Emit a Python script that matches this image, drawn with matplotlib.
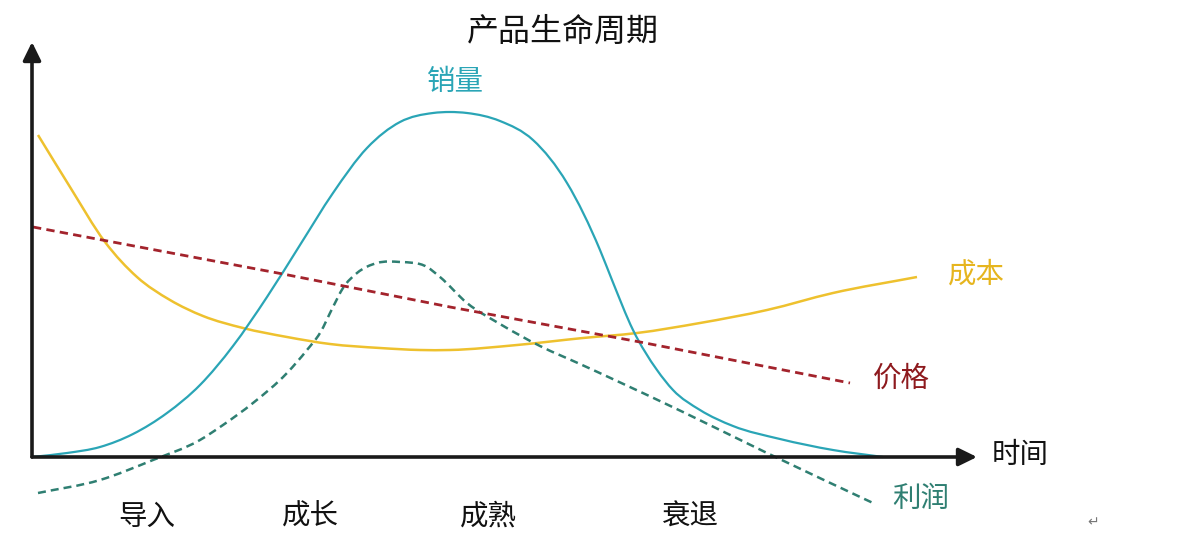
import matplotlib
matplotlib.use("Agg")
import matplotlib.pyplot as plt
from matplotlib.path import Path
from matplotlib.patches import PathPatch
import numpy as np

plt.rcParams['font.family'] = ['Noto Sans CJK SC', 'DejaVu Sans']

# ---- data (time units along x, value units along y; origin at the axes corner) ----
sales_t = [0, 3.5, 6.8, 10.1, 13.5, 16.8, 20.1, 23.5, 26.8, 30.1, 33.5, 36.8, 40.1,
           41.8, 43.5, 46.8, 50.1, 53.5, 56.8, 58.0, 60.1, 62.5, 64.1, 66.8, 70.1,
           74.8, 80.1, 85.1]
sales_v = [0, 0.4, 1.0, 2.3, 4.4, 7.2, 11.1, 16.0, 21.2, 26.4, 30.9, 33.5, 34.4,
           34.5, 34.4, 33.6, 31.7, 27.4, 20.7, 17.7, 12.7, 8.7, 6.7, 4.7, 3.1,
           1.8, 0.7, 0]

cost_t = [0.6, 3.8, 7.3, 10.5, 13.8, 17.1, 21.1, 25.5, 29.8, 34.8, 38.8, 41.8,
          48.5, 55.1, 60.5, 66.8, 73.5, 80.1, 88.5]
cost_v = [32.2, 27.0, 21.5, 18.0, 15.7, 14.1, 12.9, 12.0, 11.3, 10.9, 10.7, 10.7,
          11.2, 11.9, 12.4, 13.4, 14.7, 16.4, 18.0]

price_t = [0.1, 25.1, 41.8, 60.8, 81.8]
price_v = [23.0, 18.3, 15.0, 11.5, 7.4]

profit_t = [0.6, 6.8, 12.1, 16.8, 19.1, 22.1, 25.5, 27.5, 28.8, 30.1, 31.1, 32.5,
            34.5, 36.8, 39.5, 40.8, 43.5, 46.8, 50.8, 54.8, 58.5, 65.1, 73.5, 84.1]
profit_v = [-3.6, -2.3, -0.3, 1.7, 3.2, 5.4, 8.4, 10.7, 12.4, 15.0, 16.9, 18.4,
            19.4, 19.5, 19.0, 18.0, 15.4, 13.3, 11.1, 9.3, 7.6, 4.5, 0.4, -4.6]

stages = ['导入', '成长', '成熟', '衰退']
stage_t = [11.5, 27.8, 45.6, 65.8]

title = '产品生命周期'
x_label = '时间'

# colours
c_sales = '#2aa5b6'
c_cost = '#eec12e'
c_price = '#a3232c'
c_profit = '#2f7f72'


def smooth_path(xs, ys):
    """Cubic Hermite (as Bezier) path through the given points, parametrised by x."""
    x = np.asarray(xs, float)
    y = np.asarray(ys, float)
    h = np.diff(x)
    s = np.diff(y) / h
    m = np.empty_like(y)
    m[0], m[-1] = s[0], s[-1]
    m[1:-1] = (h[1:] * s[:-1] + h[:-1] * s[1:]) / (h[:-1] + h[1:])
    verts = [(x[0], y[0])]
    codes = [Path.MOVETO]
    for i in range(len(x) - 1):
        d = h[i] / 3.0
        verts += [(x[i] + d, y[i] + m[i] * d),
                  (x[i + 1] - d, y[i + 1] - m[i + 1] * d),
                  (x[i + 1], y[i + 1])]
        codes += [Path.CURVE4] * 3
    return Path(verts, codes)


def draw_curve(ax, xs, ys, **kw):
    ax.add_patch(PathPatch(smooth_path(xs, ys), facecolor='none', **kw))


fig = plt.figure(figsize=(12.04, 5.46), dpi=100)
fig.patch.set_facecolor('white')
ax = fig.add_axes([0, 0, 1, 1])
ax.set_xlim(-3.2, 117.2)
ax.set_ylim(-8.9, 45.7)
ax.axis('off')

# axes with arrows
for tip in [(0, 41.5), (94.5, 0)]:
    ax.annotate('', xy=tip, xytext=(0, 0),
                arrowprops=dict(arrowstyle='-|>,head_length=0.55,head_width=0.27',
                                lw=2.6, color='#1a1a1a', mutation_scale=20,
                                shrinkA=0, shrinkB=0))

draw_curve(ax, cost_t, cost_v, edgecolor=c_cost, lw=1.8)
ax.plot(price_t, price_v, color=c_price, lw=2.0, dashes=(3.0, 1.9))
draw_curve(ax, profit_t, profit_v, edgecolor=c_profit, lw=1.8,
           linestyle=(0, (3.2, 2.0)))
draw_curve(ax, sales_t, sales_v, edgecolor=c_sales, lw=1.6)

# texts
ax.text(53.1, 42.5, title, fontsize=23, ha='center', va='center', color='#111111')
ax.text(42.3, 37.5, '销量', fontsize=20.5, ha='center', va='center', color=c_sales)
ax.text(94.4, 18.2, '成本', fontsize=20.5, ha='center', va='center', color='#e6b51e')
ax.text(86.9, 7.8, '价格', fontsize=20.5, ha='center', va='center', color='#8e1a1e')
ax.text(88.9, -4.2, '利润', fontsize=20.5, ha='center', va='center', color=c_profit)
ax.text(98.8, 0.2, x_label, fontsize=20.5, ha='center', va='center', color='#111111')
for s, t in zip(stages, stage_t):
    ax.text(t, -6.0, s, fontsize=20.5, ha='center', va='center', color='#111111')
ax.text(106.1, -6.5, '↵', fontsize=10, ha='center', va='center', color='#777777',
        family=['DejaVu Sans'])

fig.savefig('out.png', dpi=100, facecolor='white')
